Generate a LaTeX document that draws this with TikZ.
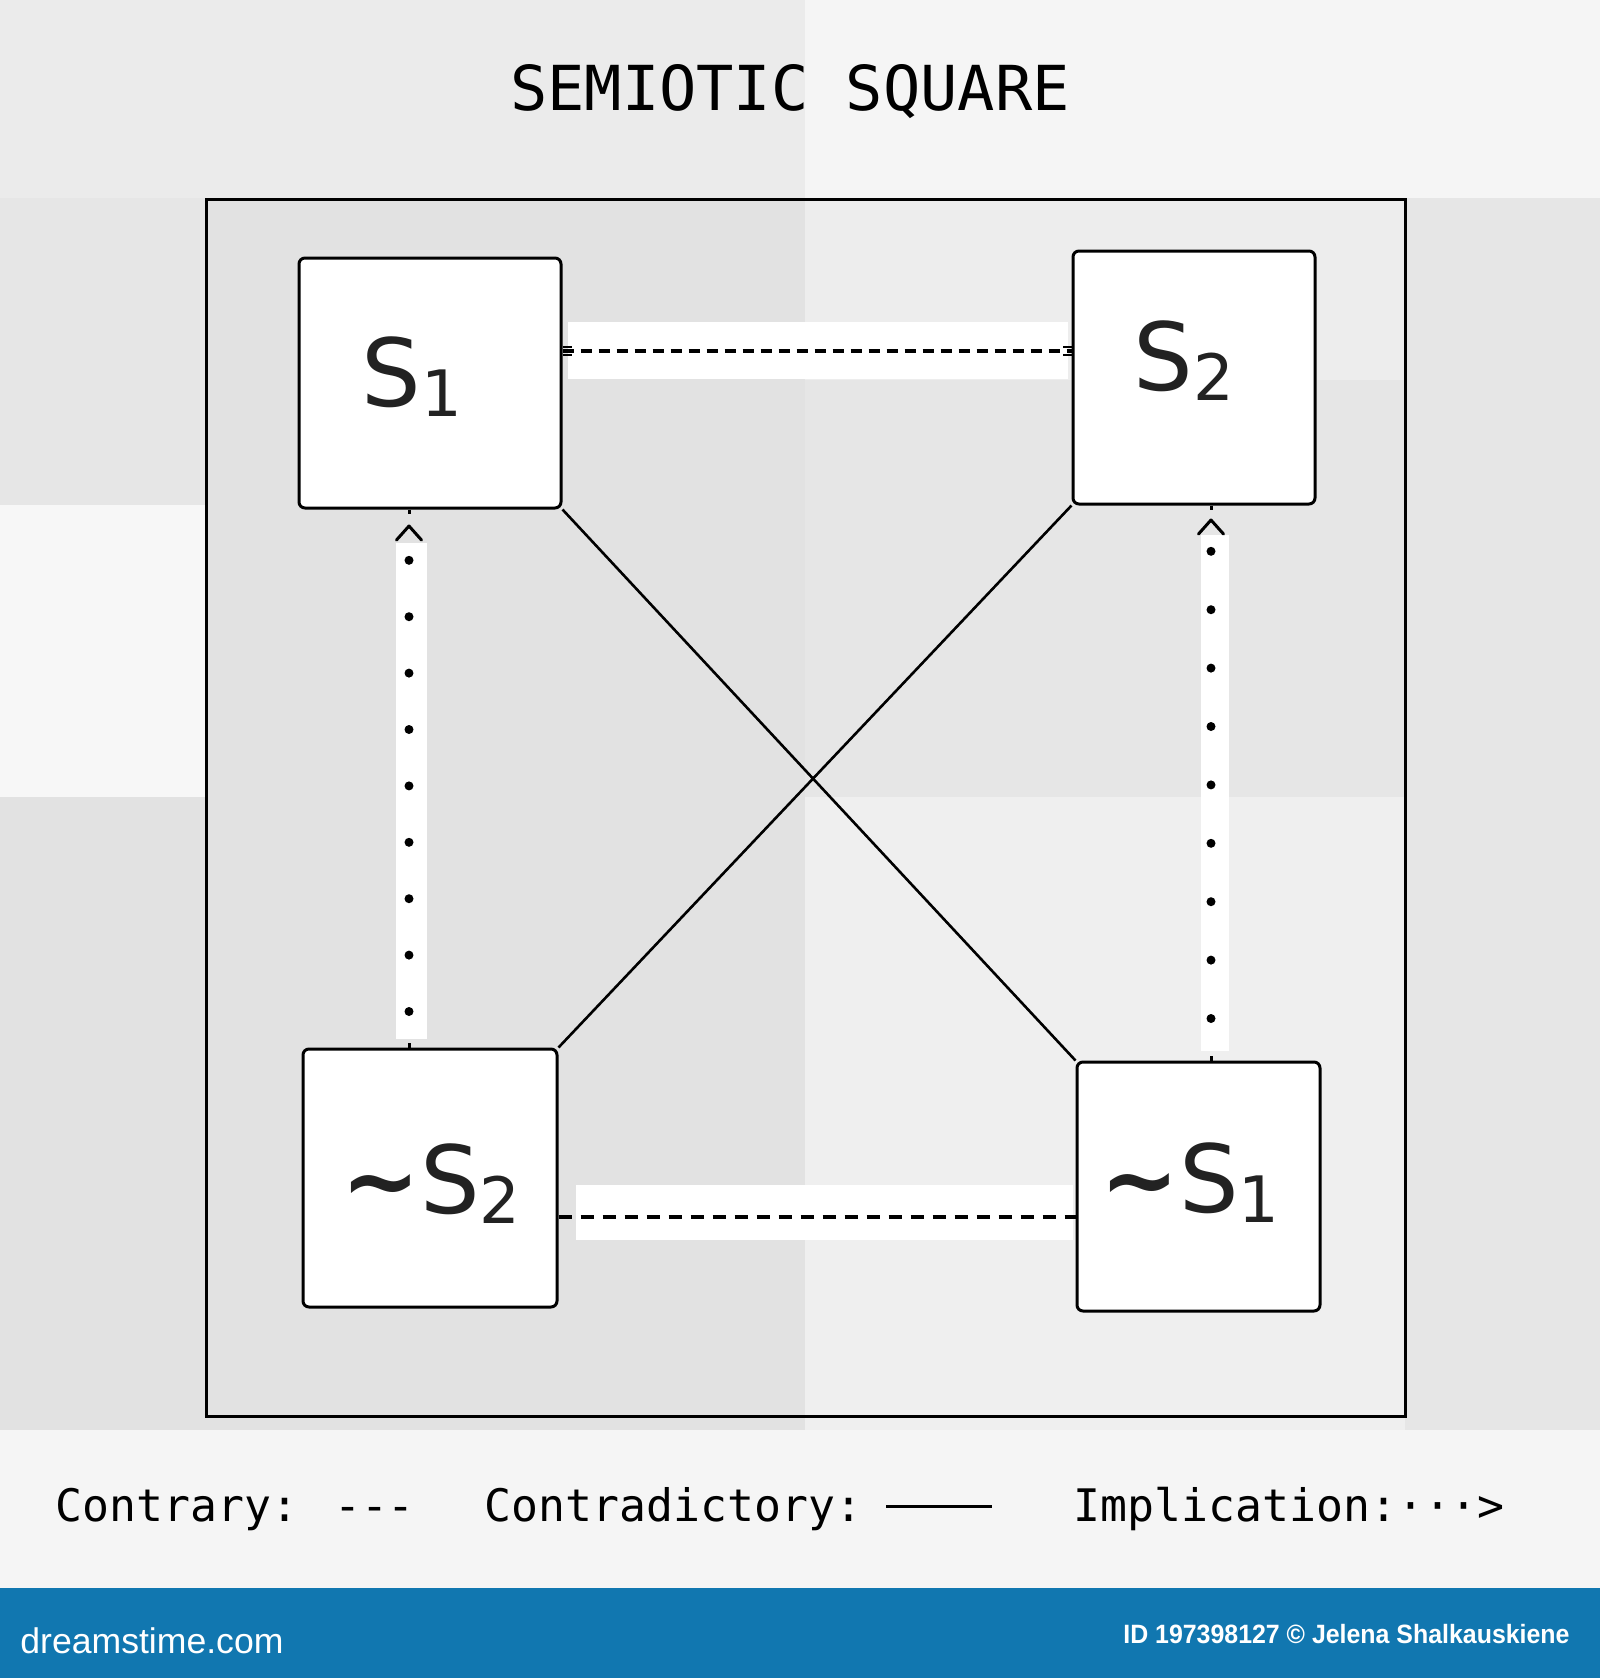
\documentclass[tikz,border=0pt]{standalone}
\usepackage{fontspec}
\setmainfont{DejaVu Sans}
\newfontfamily\monofont{DejaVu Sans Mono}
\newfontfamily\barfont{Liberation Sans}
\usetikzlibrary{arrows.meta,calc}
\definecolor{barblue}{RGB}{17,119,176}
\definecolor{bgA}{HTML}{E6E6E6}
\definecolor{bgB}{HTML}{F5F5F5}
\definecolor{bgC}{HTML}{E2E2E2}
\definecolor{bgD}{HTML}{EFEFEF}
\definecolor{inkc}{HTML}{222222}
\newcommand\labfont{\fontsize{47pt}{56pt}\selectfont}
\newcommand\subdig[1]{\raisebox{-5pt}{\fontsize{32pt}{36pt}\selectfont #1}}
\newcommand\tld{{\bfseries\char"007E}}
\newcommand\legfont{\monofont\fontsize{22.4pt}{27pt}\selectfont}
\begin{document}
\begin{tikzpicture}[x=0.5pt,y=-0.5pt,
  box/.style={draw=black, line width=1.5pt, rounded corners=3pt, fill=white, inner sep=0pt},
  lab/.style={inner sep=0pt, anchor=base, text=inkc, font=\labfont},
  contra/.style={line width=1.3pt},
  contrary/.style={line width=1.6pt, dash pattern=on 5.5pt off 3.5pt},
  contraryb/.style={line width=1.6pt, dash pattern=on 6.5pt off 4.5pt},
  impl/.style={line width=4.5pt, line cap=round, -{Straight Barb[length=7pt,width=12.5pt,line width=1.5pt,round]}},
  tick/.style={line width=1.5pt},
  band/.style={fill=white, draw=none},
  legend/.style={inner sep=0pt, anchor=base west, font=\legfont}
]
\useasboundingbox (0,0) rectangle (1600,1678);
% background
\fill[bgA] (0,0) rectangle (1600,1588);
\fill[bgB] (805,0) rectangle (1600,198);
\fill[bgA!70!bgB] (0,0) rectangle (805,198);
\fill[white!97!black] (0,505) rectangle (206,797);
\fill[bgC] (206,198) rectangle (805,797);
\fill[bgA!50!bgB] (805,198) rectangle (1405,380);
\fill[bgA] (805,380) rectangle (1405,797);
\fill[bgC] (0,797) rectangle (805,1430);
\fill[bgD] (805,797) rectangle (1405,1430);
\fill[bgA] (1405,198) rectangle (1600,1430);
\fill[bgB] (0,1430) rectangle (1600,1588);
% white bands
\fill[band] (568,322) rectangle (1068,379);
\fill[band] (576,1185) rectangle (1073,1240);
\fill[band] (396,543) rectangle (427,1039);
\fill[band] (1201,535) rectangle (1229,1051);
% outer frame
\draw[line width=1.5pt] (206,199) rectangle (1405,1416);
% title
\node[inner sep=0pt, anchor=base, font=\monofont\fontsize{31pt}{36pt}\selectfont] (title) at (790,110) {SEMIOTIC SQUARE};
% boxes
\node[box, minimum width=131pt, minimum height=125pt] (s1) at (430,383) {};
\node[box, minimum width=121pt, minimum height=126.5pt] (s2) at (1194,377.5) {};
\node[box, minimum width=127pt, minimum height=129pt] (ns2) at (430,1178) {};
\node[box, minimum width=121.5pt, minimum height=124.5pt] (ns1) at (1198.5,1186.5) {};
% labels
\node[lab] (s1t) at (412,406) {S\subdig{1}};
\node[lab] (s2t) at (1184,390) {S\subdig{2}};
\node[lab] (ns2t) at (431,1213) {\tld S\subdig{2}};
\node[lab] (ns1t) at (1190,1212) {\tld S\subdig{1}};
% contradictory
\draw[contra] (s1.south east) -- (ns1.north west);
\draw[contra] (s2.south west) -- (ns2.north east);
% contrary
\coordinate (ytop) at (0,351);
\coordinate (ybot) at (0,1217);
\draw[contrary] (s1.east |- ytop) -- (s2.west |- ytop);
\draw[tick, line width=1pt] ($(s1.east |- ytop)+(0,-4)$) -- ++(9,0);
\draw[tick, line width=1pt] ($(s1.east |- ytop)+(0,4)$) -- ++(9,0);
\draw[tick, line width=1pt] ($(s2.west |- ytop)+(0,-4)$) -- ++(-9,0);
\draw[tick, line width=1pt] ($(s2.west |- ytop)+(0,4)$) -- ++(-9,0);
\draw[contraryb] (ns2.east |- ybot) -- (ns1.west |- ybot);
% implication
\coordinate (la) at ($(ns2.north)+(-21,0)$);
\coordinate (lb) at ($(s1.south)+(-21,0)$);
\coordinate (ra) at ($(ns1.north)+(12.5,0)$);
\coordinate (rb) at ($(s2.south)+(17,0)$);
\draw[impl, dash pattern=on 0pt off 28.2pt, dash phase=10.2pt, shorten >=7.5pt] (la) -- (lb);
\draw[impl, dash pattern=on 0pt off 29.2pt, dash phase=8.2pt, shorten >=6.5pt] (ra) -- (rb);
\draw[tick] (la) -- ++(0,-5);
\draw[tick] (lb) -- ++(0,4);
\draw[tick] (ra) -- ++(0,-5);
\draw[tick] (rb) -- ++(0,4);
% legend
\node[legend] (lg1) at (55,1521) {Contrary: ---};
\node[legend] (lg2) at (484,1521) {Contradictory:};
\coordinate (lgl1) at (886,1506);
\coordinate (lgl2) at (992,1506);
\draw[line width=1.5pt] (lgl1) -- (lgl2);
\node[legend] (lg3) at (1073,1521) {Implication:···>};
% bottom bar
\fill[barblue] (0,1588) rectangle (1600,1678);
\node[inner sep=0pt, anchor=base west, text=white, font=\barfont\fontsize{17.8pt}{20pt}\selectfont] (brand) at (20,1653) {dreamstime.com};
\node[inner sep=0pt, anchor=base east, text=white, font=\barfont\bfseries\fontsize{13.25pt}{16pt}\selectfont] (credit) at (1570,1643) {\scalebox{0.94}[1]{ID 197398127 © Jelena Shalkauskiene}};
\end{tikzpicture}
\end{document}
